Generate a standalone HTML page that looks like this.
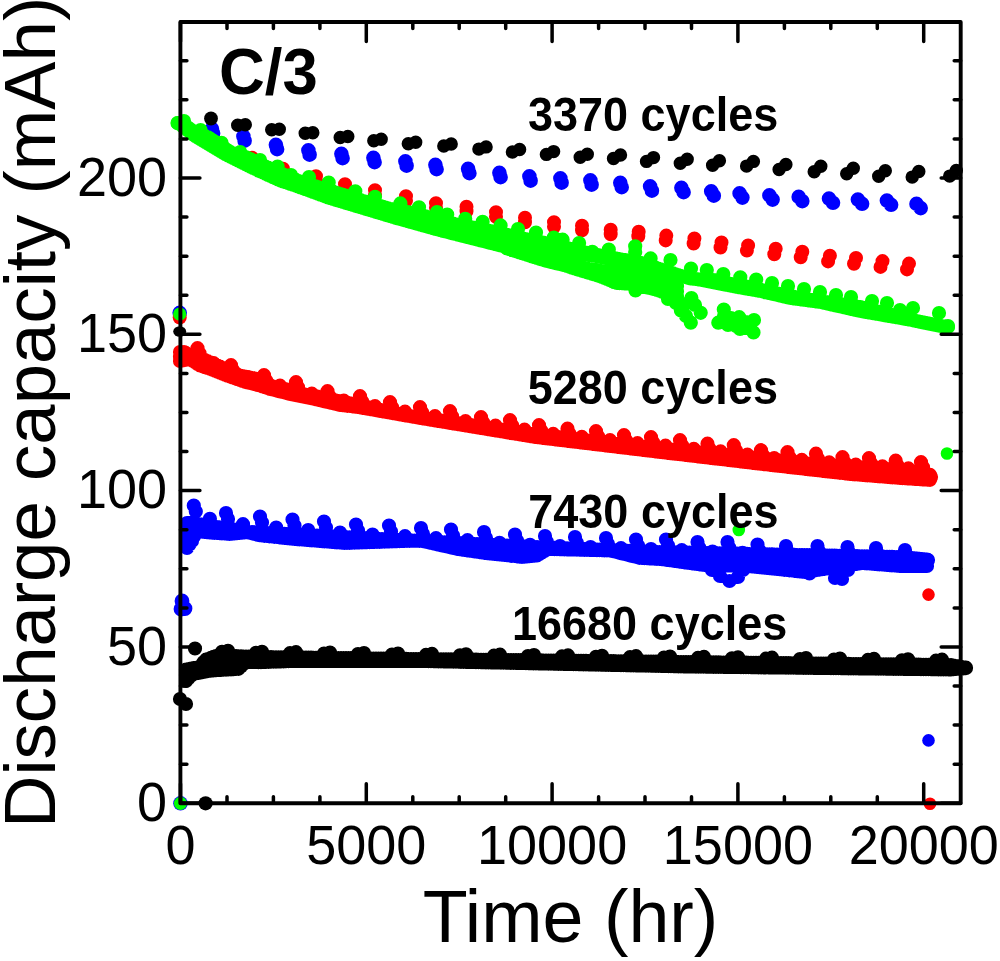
<!DOCTYPE html>
<html><head><meta charset="utf-8"><style>
html,body{margin:0;padding:0;background:#fff;width:1000px;height:961px;overflow:hidden}
svg{display:block;will-change:transform}
text{font-family:"Liberation Sans",sans-serif;fill:#000}
</style></head><body>
<svg width="1000" height="961" viewBox="0 0 1000 961">
<rect width="1000" height="961" fill="#fff"/>
<path d="M252.0 157.8h0M252.0 162.2h0M283.0 168.8h0M283.0 173.2h0M316.0 176.3h0M316.0 180.7h0M345.0 184.3h0M345.0 188.7h0M375.0 190.3h0M375.0 194.7h0M406.0 196.3h0M406.0 200.7h0M436.0 203.3h0M436.0 207.7h0M466.5 206.8h0M466.5 211.2h0M496.0 212.3h0M496.0 216.7h0M525.0 217.8h0M525.0 222.2h0M554.0 222.3h0M554.0 226.7h0M582.0 225.8h0M582.0 230.2h0M610.7 229.8h0M610.7 234.2h0M638.7 231.7h0M638.3 236.3h0M666.3 235.6h0M665.7 240.4h0M694.4 238.5h0M693.6 243.5h0M721.5 242.5h0M720.5 247.5h0M748.1 245.4h0M746.9 250.6h0M775.7 248.8h0M774.3 254.2h0M802.3 251.7h0M800.7 257.3h0M829.9 255.8h0M828.1 261.4h0M856.0 257.9h0M854.0 263.7h0M882.5 261.1h0M880.5 266.9h0M909.0 263.6h0M907.0 269.4h0" stroke="#ff0000" stroke-width="14.0" stroke-linecap="round" fill="none"/>
<path d="M211.9 128.8h0M213.1 133.2h0M243.4 136.3h0M244.6 140.7h0M275.9 144.8h0M277.1 149.2h0M308.4 150.3h0M309.6 154.7h0M341.4 153.8h0M342.6 158.2h0M373.4 157.8h0M374.6 162.2h0M405.4 161.3h0M406.6 165.7h0M435.4 164.8h0M436.6 169.2h0M468.1 168.8h0M469.4 173.2h0M499.4 172.8h0M500.6 177.2h0M529.4 176.3h0M530.6 180.7h0M560.4 178.3h0M561.6 182.7h0M590.4 180.3h0M591.6 184.7h0M620.3 182.8h0M621.7 187.2h0M650.1 186.3h0M651.9 190.7h0M681.4 187.8h0M683.6 192.2h0M711.2 191.3h0M713.8 195.7h0M739.6 193.4h0M742.4 197.6h0M769.4 195.4h0M772.6 199.6h0M798.7 196.9h0M802.3 201.1h0M829.0 198.6h0M833.0 202.8h0M857.9 199.6h0M862.1 203.8h0M886.9 200.6h0M891.1 204.8h0M916.5 203.9h0M920.7 208.1h0" stroke="#0000ff" stroke-width="14.6" stroke-linecap="round" fill="none"/>
<path d="M211.0 118.5h0" stroke="#000000" stroke-width="13.8" stroke-linecap="round" fill="none"/>
<path d="M237.7 125.3h0M245.3 124.7h0M271.7 129.8h0M279.3 129.2h0M305.2 133.3h0M312.8 132.7h0M340.2 137.5h0M347.8 136.5h0M373.8 140.7h0M381.2 139.3h0M408.3 143.8h0M415.7 142.2h0M443.8 146.0h0M451.2 144.0h0M478.9 149.1h0M486.1 146.9h0M512.4 152.0h0M519.6 149.5h0M546.4 154.4h0M553.6 151.6h0M580.2 157.3h0M587.3 154.2h0M613.5 158.5h0M620.5 155.0h0M646.5 161.4h0M653.5 157.6h0M680.3 163.3h0M687.2 159.2h0M712.6 165.2h0M719.4 160.8h0M746.6 166.1h0M753.4 161.4h0M779.1 169.5h0M785.9 164.5h0M814.2 171.7h0M820.8 166.3h0M846.7 173.8h0M853.3 168.2h0M878.7 176.3h0M885.3 170.7h0M912.2 177.1h0M918.8 171.5h0M949.7 176.1h0M956.3 170.5h0" stroke="#000000" stroke-width="13.4" stroke-linecap="round" fill="none"/>
<path d="M178.0 123.2h0M178.0 123.2h0M180.5 124.1h0M180.5 124.4h0M183.0 124.1h0M183.0 126.5h0M185.5 125.9h0M185.5 128.5h0M188.0 127.6h0M188.0 130.5h0M190.5 129.4h0M190.5 132.5h0M193.0 131.2h0M193.0 134.5h0M195.5 132.5h0M195.5 136.2h0M198.0 133.4h0M198.0 137.7h0M200.5 134.4h0M200.5 139.2h0M203.0 135.4h0M203.0 140.7h0M205.5 136.3h0M205.5 142.2h0M208.0 137.3h0M208.0 140.5h0M208.0 143.7h0M210.5 138.9h0M210.5 142.0h0M210.5 145.2h0M213.0 140.5h0M213.0 143.6h0M213.0 146.7h0M215.5 142.2h0M215.5 148.2h0M218.0 143.9h0M218.0 149.7h0M220.5 145.5h0M220.5 151.2h0M223.0 147.2h0M223.0 152.7h0M225.5 148.9h0M225.5 154.2h0M228.0 150.5h0M228.0 155.6h0M230.5 152.2h0M230.5 156.8h0M233.0 153.3h0M233.0 158.1h0M235.5 154.1h0M235.5 159.3h0M238.0 154.9h0M238.0 160.6h0M240.5 155.6h0M240.5 158.7h0M240.5 161.8h0M243.0 156.4h0M243.0 159.8h0M243.0 163.1h0M245.5 157.2h0M245.5 160.8h0M245.5 164.3h0M248.0 158.0h0M248.0 161.8h0M248.0 165.6h0M250.5 159.0h0M250.5 162.9h0M250.5 166.8h0M253.0 160.3h0M253.0 164.1h0M253.0 167.9h0M255.5 161.5h0M255.5 165.3h0M255.5 169.1h0M258.0 162.8h0M258.0 166.5h0M258.0 170.3h0M260.5 164.0h0M260.5 167.7h0M260.5 171.4h0M263.0 165.2h0M263.0 168.9h0M263.0 172.6h0M265.5 166.5h0M265.5 170.1h0M265.5 173.7h0M268.0 167.7h0M268.0 171.3h0M268.0 174.9h0M270.5 168.8h0M270.5 172.4h0M270.5 176.0h0M273.0 169.9h0M273.0 173.5h0M273.0 177.2h0M275.5 171.0h0M275.5 174.7h0M275.5 178.3h0M278.0 172.1h0M278.0 175.8h0M278.0 179.5h0M280.5 173.2h0M280.5 176.9h0M280.5 180.6h0M283.0 174.3h0M283.0 177.8h0M283.0 181.4h0M285.5 175.4h0M285.5 178.8h0M285.5 182.2h0M288.0 176.4h0M288.0 179.8h0M288.0 183.1h0M290.5 177.5h0M290.5 180.7h0M290.5 183.9h0M293.0 178.6h0M293.0 181.7h0M293.0 184.7h0M295.5 179.7h0M295.5 185.6h0M298.0 180.8h0M298.0 186.5h0M300.5 181.7h0M300.5 187.4h0M303.0 182.4h0M303.0 188.3h0M305.5 183.2h0M305.5 186.2h0M305.5 189.2h0M308.0 184.0h0M308.0 187.0h0M308.0 190.1h0M310.5 184.8h0M310.5 187.9h0M310.5 191.0h0M313.0 185.5h0M313.0 188.7h0M313.0 191.9h0M315.5 186.3h0M315.5 189.6h0M315.5 192.8h0M318.0 187.1h0M318.0 190.4h0M318.0 193.7h0M320.5 187.9h0M320.5 191.3h0M320.5 194.7h0M323.0 188.6h0M323.0 192.1h0M323.0 195.6h0M325.5 189.4h0M325.5 192.9h0M325.5 196.5h0M328.0 190.2h0M328.0 193.8h0M328.0 197.4h0M330.5 190.9h0M330.5 194.6h0M330.5 198.2h0M333.0 191.7h0M333.0 195.4h0M333.0 199.0h0M335.5 192.5h0M335.5 196.1h0M335.5 199.8h0M338.0 193.3h0M338.0 196.9h0M338.0 200.5h0M340.5 194.0h0M340.5 197.6h0M340.5 201.2h0M343.0 194.8h0M343.0 198.4h0M343.0 202.0h0M345.5 195.6h0M345.5 199.2h0M345.5 202.8h0M348.0 196.4h0M348.0 199.9h0M348.0 203.5h0M350.5 197.1h0M350.5 200.7h0M350.5 204.2h0M353.0 197.9h0M353.0 201.4h0M353.0 205.0h0M355.5 198.7h0M355.5 202.2h0M355.5 205.8h0M358.0 199.4h0M358.0 203.0h0M358.0 206.5h0M360.5 200.2h0M360.5 203.7h0M360.5 207.2h0M363.0 201.0h0M363.0 204.5h0M363.0 208.0h0M365.5 201.7h0M365.5 205.2h0M365.5 208.8h0M368.0 202.5h0M368.0 206.0h0M368.0 209.5h0M370.5 203.2h0M370.5 206.7h0M370.5 210.2h0M373.0 203.9h0M373.0 207.5h0M373.0 211.0h0M375.5 204.6h0M375.5 208.2h0M375.5 211.8h0M378.0 205.4h0M378.0 208.9h0M378.0 212.5h0M380.5 206.1h0M380.5 209.7h0M380.5 213.2h0M383.0 206.8h0M383.0 210.4h0M383.0 214.0h0M385.5 207.5h0M385.5 211.1h0M385.5 214.8h0M388.0 208.3h0M388.0 211.9h0M388.0 215.5h0M390.5 209.0h0M390.5 212.6h0M390.5 216.2h0M393.0 209.4h0M393.0 213.2h0M393.0 217.0h0M395.5 209.9h0M395.5 213.8h0M395.5 217.8h0M398.0 210.3h0M398.0 214.4h0M398.0 218.5h0M400.5 210.8h0M400.5 215.0h0M400.5 219.1h0M403.0 211.2h0M403.0 215.5h0M403.0 219.8h0M405.5 211.6h0M405.5 216.1h0M405.5 220.5h0M408.0 212.1h0M408.0 216.7h0M408.0 221.2h0M410.5 212.6h0M410.5 217.3h0M410.5 221.9h0M413.0 213.2h0M413.0 217.9h0M413.0 222.6h0M415.5 213.9h0M415.5 218.6h0M415.5 223.3h0M418.0 214.5h0M418.0 219.2h0M418.0 224.0h0M420.5 215.1h0M420.5 219.9h0M420.5 224.7h0M423.0 215.7h0M423.0 220.6h0M423.0 225.4h0M425.5 216.4h0M425.5 221.2h0M425.5 226.1h0M428.0 217.0h0M428.0 221.9h0M428.0 226.8h0M430.5 217.7h0M430.5 222.6h0M430.5 227.5h0M433.0 218.4h0M433.0 223.3h0M433.0 228.2h0M435.5 219.0h0M435.5 223.9h0M435.5 228.9h0M438.0 219.7h0M438.0 224.6h0M438.0 229.5h0M440.5 220.4h0M440.5 225.3h0M440.5 230.2h0M443.0 221.0h0M443.0 226.0h0M443.0 230.9h0M445.5 221.7h0M445.5 226.6h0M445.5 231.5h0M448.0 222.4h0M448.0 227.3h0M448.0 232.1h0M450.5 223.1h0M450.5 227.9h0M450.5 232.8h0M453.0 223.7h0M453.0 228.6h0M453.0 233.4h0M455.5 224.3h0M455.5 229.2h0M455.5 234.0h0M458.0 224.8h0M458.0 229.7h0M458.0 234.7h0M460.5 225.3h0M460.5 230.3h0M460.5 235.3h0M463.0 225.8h0M463.0 230.8h0M463.0 235.9h0M465.5 226.2h0M465.5 231.4h0M465.5 236.6h0M468.0 226.7h0M468.0 232.0h0M468.0 237.2h0M470.5 227.2h0M470.5 232.5h0M470.5 237.8h0M473.0 227.7h0M473.0 233.1h0M473.0 238.5h0M475.5 228.2h0M475.5 233.6h0M475.5 239.1h0M478.0 228.7h0M478.0 234.2h0M478.0 239.7h0M480.5 229.2h0M480.5 234.8h0M480.5 240.4h0M483.0 229.6h0M483.0 235.3h0M483.0 241.0h0M485.5 230.1h0M485.5 235.9h0M485.5 241.6h0M488.0 230.6h0M488.0 236.4h0M488.0 242.3h0M490.5 231.1h0M490.5 237.0h0M490.5 242.9h0M493.0 231.6h0M493.0 237.6h0M493.0 243.5h0M495.5 232.2h0M495.5 238.2h0M495.5 244.2h0M498.0 232.8h0M498.0 238.8h0M498.0 244.8h0M500.5 233.4h0M500.5 239.4h0M500.5 245.4h0M503.0 234.0h0M503.0 240.0h0M503.0 245.9h0M505.5 234.6h0M505.5 240.5h0M505.5 246.4h0M508.0 235.2h0M508.0 241.0h0M508.0 246.8h0M510.5 235.8h0M510.5 241.6h0M510.5 247.3h0M513.0 236.4h0M513.0 242.1h0M513.0 247.8h0M515.5 237.0h0M515.5 242.6h0M515.5 248.3h0M518.0 237.6h0M518.0 243.2h0M518.0 248.7h0M520.5 238.2h0M520.5 243.7h0M520.5 249.2h0M523.0 238.7h0M523.0 244.2h0M523.0 249.7h0M525.5 239.2h0M525.5 244.7h0M525.5 250.2h0M528.0 239.7h0M528.0 245.2h0M528.0 250.7h0M530.5 240.2h0M530.5 245.7h0M530.5 251.1h0M533.0 240.7h0M533.0 246.2h0M533.0 251.6h0M535.5 241.2h0M535.5 246.6h0M535.5 252.1h0M538.0 241.7h0M538.0 247.1h0M538.0 252.6h0M540.5 242.2h0M540.5 247.6h0M540.5 253.0h0M543.0 242.7h0M543.0 248.1h0M543.0 253.5h0M545.5 243.2h0M545.5 248.6h0M545.5 253.9h0M548.0 243.8h0M548.0 248.9h0M548.0 254.0h0M550.5 244.3h0M550.5 249.2h0M550.5 254.0h0M553.0 244.9h0M553.0 249.5h0M553.0 254.1h0M555.5 245.5h0M555.5 249.8h0M555.5 254.1h0M558.0 246.1h0M558.0 250.1h0M558.0 254.2h0M560.5 246.6h0M560.5 250.4h0M560.5 254.2h0M563.0 247.2h0M563.0 250.7h0M563.0 254.3h0M565.5 247.8h0M565.5 251.1h0M565.5 254.4h0M568.0 248.3h0M568.0 251.4h0M568.0 254.4h0M570.5 248.9h0M570.5 254.5h0M573.0 249.5h0M573.0 254.5h0M575.5 250.2h0M575.5 254.6h0M578.0 250.8h0M578.0 254.6h0M580.5 251.4h0M580.5 254.7h0M583.0 252.1h0M583.0 254.7h0M585.5 252.7h0M585.5 254.8h0M588.0 253.2h0M588.0 254.9h0M590.5 253.7h0M590.5 255.0h0M593.0 254.2h0M593.0 255.5h0M595.5 254.6h0M595.5 256.0h0M598.0 255.1h0M598.0 256.5h0M600.5 255.6h0M600.5 257.0h0M603.0 256.0h0M603.0 257.4h0M605.5 256.5h0M605.5 257.9h0M608.0 257.0h0M608.0 258.4h0M610.5 257.4h0M610.5 258.9h0M613.0 257.9h0M613.0 259.4h0M615.5 258.4h0M615.5 259.9h0M618.0 258.9h0M618.0 260.4h0M620.5 259.3h0M620.5 260.9h0M623.0 259.8h0M623.0 261.4h0M625.5 260.2h0M625.5 261.9h0M628.0 260.7h0M628.0 262.4h0M630.5 261.1h0M630.5 262.8h0M633.0 261.5h0M633.0 263.3h0M635.5 262.0h0M635.5 263.8h0M638.0 262.4h0M638.0 264.3h0M640.5 262.9h0M640.5 264.8h0M643.0 263.6h0M643.0 265.4h0M645.5 264.4h0M645.5 266.1h0M648.0 265.2h0M648.0 266.8h0M650.5 266.0h0M650.5 267.5h0M653.0 266.9h0M653.0 268.1h0M655.5 267.7h0M655.5 268.8h0M658.0 268.5h0M658.0 269.5h0M660.5 269.3h0M660.5 270.2h0M663.0 270.1h0M663.0 270.9h0M665.5 270.9h0M665.5 271.5h0M668.0 271.8h0M668.0 272.2h0M670.5 272.6h0M670.5 272.9h0M673.0 273.4h0M673.0 273.6h0M675.5 274.3h0M675.5 274.3h0M678.0 275.0h0M678.0 275.0h0M680.5 275.8h0M680.5 275.8h0M683.0 276.5h0M683.0 276.5h0M685.5 277.1h0M685.5 277.1h0M688.0 277.8h0M688.0 277.8h0M690.5 278.4h0M690.5 278.4h0M693.0 278.7h0M693.0 278.7h0M695.5 279.0h0M695.5 279.0h0M698.0 279.3h0M698.0 279.3h0M700.5 279.6h0M700.5 279.7h0M703.0 279.7h0M703.0 280.2h0M705.5 279.8h0M705.5 280.7h0M708.0 280.0h0M708.0 281.2h0M710.5 280.1h0M710.5 281.7h0M713.0 280.2h0M713.0 282.2h0M715.5 280.4h0M715.5 282.7h0M718.0 281.0h0M718.0 283.2h0M720.5 281.6h0M720.5 283.7h0M723.0 282.1h0M723.0 284.2h0M725.5 282.7h0M725.5 284.7h0M728.0 283.3h0M728.0 285.1h0M730.5 283.9h0M730.5 285.6h0M733.0 284.4h0M733.0 286.1h0M735.5 284.8h0M735.5 286.6h0M738.0 285.2h0M738.0 287.1h0M740.5 285.6h0M740.5 287.5h0M743.0 286.1h0M743.0 287.9h0M745.5 286.5h0M745.5 288.4h0M748.0 286.9h0M748.0 288.8h0M750.5 287.5h0M750.5 289.2h0M753.0 288.0h0M753.0 289.7h0M755.5 288.6h0M755.5 290.1h0M758.0 289.2h0M758.0 290.6h0M760.5 289.7h0M760.5 291.0h0M763.0 290.3h0M763.0 291.6h0M765.5 290.8h0M765.5 292.2h0M768.0 291.4h0M768.0 292.8h0M770.5 292.0h0M770.5 293.3h0M773.0 292.5h0M773.0 293.9h0M775.5 293.1h0M775.5 294.5h0M778.0 293.7h0M778.0 295.1h0M780.5 294.2h0M780.5 295.7h0M783.0 294.7h0M783.0 296.3h0M785.5 295.1h0M785.5 296.8h0M788.0 295.6h0M788.0 297.4h0M790.5 296.1h0M790.5 298.0h0M793.0 296.5h0M793.0 298.3h0M795.5 297.0h0M795.5 298.6h0M798.0 297.5h0M798.0 299.0h0M800.5 297.9h0M800.5 299.3h0M803.0 298.4h0M803.0 299.6h0M805.5 298.9h0M805.5 300.0h0M808.0 299.4h0M808.0 300.3h0M810.5 299.8h0M810.5 300.6h0M813.0 300.2h0M813.0 301.0h0M815.5 300.6h0M815.5 301.3h0M818.0 301.0h0M818.0 301.6h0M820.5 301.3h0M820.5 302.0h0M823.0 301.7h0M823.0 302.6h0M825.5 302.1h0M825.5 303.1h0M828.0 302.4h0M828.0 303.7h0M830.5 302.8h0M830.5 304.3h0M833.0 303.2h0M833.0 304.8h0M835.5 303.5h0M835.5 305.4h0M838.0 303.9h0M838.0 305.9h0M840.5 304.3h0M840.5 306.5h0M843.0 304.6h0M843.0 307.1h0M845.5 305.0h0M845.5 307.6h0M848.0 305.4h0M848.0 308.2h0M850.5 305.7h0M850.5 308.8h0M853.0 306.1h0M853.0 309.3h0M855.5 306.4h0M855.5 309.9h0M858.0 306.8h0M858.0 310.4h0M860.5 307.2h0M860.5 311.0h0M863.0 307.9h0M863.0 311.4h0M865.5 308.5h0M865.5 311.9h0M868.0 309.1h0M868.0 312.3h0M870.5 309.7h0M870.5 312.7h0M873.0 310.4h0M873.0 313.2h0M875.5 311.0h0M875.5 313.6h0M878.0 311.6h0M878.0 314.0h0M880.5 312.2h0M880.5 314.5h0M883.0 312.9h0M883.0 314.9h0M885.5 313.5h0M885.5 315.4h0M888.0 314.1h0M888.0 315.8h0M890.5 314.7h0M890.5 316.2h0M893.0 315.4h0M893.0 316.7h0M895.5 316.0h0M895.5 317.1h0M898.0 316.6h0M898.0 317.5h0M900.5 317.2h0M900.5 318.0h0M903.0 317.9h0M903.0 318.4h0M905.5 318.5h0M905.5 318.9h0M908.0 319.1h0M908.0 319.3h0M910.5 319.7h0M910.5 319.7h0M913.0 320.3h0M913.0 320.3h0M915.5 320.8h0M915.5 320.8h0M918.0 321.3h0M918.0 321.3h0M920.5 321.9h0M920.5 321.9h0M923.0 322.4h0M923.0 322.4h0M925.5 322.9h0M925.5 322.9h0M928.0 323.4h0M928.0 323.4h0M930.5 323.9h0M930.5 323.9h0M933.0 324.4h0M933.0 324.4h0M935.5 324.9h0M935.5 324.9h0M938.0 325.4h0M938.0 325.4h0M940.5 325.9h0M940.5 325.9h0M943.0 326.3h0M943.0 326.3h0M945.5 326.7h0M945.5 326.7h0M948.0 327.1h0M948.0 327.1h0" stroke="#00ff00" stroke-width="14.2" stroke-linecap="round" fill="none"/>
<path d="M177.5 123.0h0M184.0 121.0h0M200.6 130.0h0M221.5 142.8h0M240.2 152.0h0M260.0 160.0h0M277.6 166.5h0M291.0 175.0h0M309.0 177.0h0M328.7 182.5h0M355.3 191.3h0M375.0 196.8h0M400.4 203.4h0M419.0 207.3h0M437.0 212.0h0M447.2 214.6h0M465.2 218.8h0M482.6 221.8h0M500.6 225.4h0M518.0 229.0h0M536.0 232.6h0M553.8 237.5h0M562.6 239.7h0M579.1 243.0h0M592.3 251.8h0M608.8 249.6h0M635.2 246.3h0M650.6 258.4h0M670.5 260.0h0M691.0 268.5h0M706.8 270.1h0M723.3 274.0h0M740.3 277.3h0M756.2 279.5h0M772.0 283.0h0M788.0 286.0h0M804.0 289.0h0M820.0 292.0h0M836.0 295.0h0M851.0 297.0h0M872.0 301.0h0M887.0 303.0h0M900.0 310.0h0M913.0 308.0h0M939.0 313.0h0M948.0 326.0h0" stroke="#00ff00" stroke-width="14.2" stroke-linecap="round" fill="none"/>
<path d="M507.0 248.4h0M507.0 248.4h0M509.5 249.2h0M509.5 249.2h0M512.0 250.0h0M512.0 250.0h0M514.5 250.8h0M514.5 250.8h0M517.0 251.6h0M517.0 251.6h0M519.5 252.4h0M519.5 252.4h0M522.0 253.2h0M522.0 253.2h0M524.5 254.0h0M524.5 254.0h0M527.0 254.8h0M527.0 254.8h0M529.5 255.6h0M529.5 255.6h0M532.0 256.4h0M532.0 256.4h0M534.5 257.2h0M534.5 257.2h0M537.0 258.0h0M537.0 258.0h0M539.5 258.8h0M539.5 258.8h0M542.0 259.5h0M542.0 259.5h0M544.5 260.3h0M544.5 260.3h0M547.0 261.0h0M547.0 261.0h0M549.5 261.6h0M549.5 261.6h0M552.0 262.2h0M552.0 262.2h0M554.5 262.8h0M554.5 262.8h0M557.0 263.4h0M557.0 263.4h0M559.5 264.0h0M559.5 264.0h0M562.0 264.6h0M562.0 264.6h0M564.5 265.1h0M564.5 265.2h0M567.0 265.5h0M567.0 266.0h0M569.5 265.9h0M569.5 266.8h0M572.0 266.3h0M572.0 267.7h0M574.5 266.7h0M574.5 268.5h0M577.0 267.1h0M577.0 269.3h0M579.5 267.5h0M579.5 270.0h0M582.0 267.9h0M582.0 270.8h0M584.5 268.2h0M584.5 271.5h0M587.0 268.6h0M587.0 272.3h0M589.5 269.0h0M589.5 273.0h0M592.0 269.4h0M592.0 273.8h0M594.5 269.8h0M594.5 274.5h0M597.0 270.2h0M597.0 275.3h0M599.5 270.6h0M599.5 276.1h0M602.0 271.0h0M602.0 274.0h0M602.0 277.0h0M604.5 271.4h0M604.5 274.7h0M604.5 278.0h0M607.0 271.8h0M607.0 275.4h0M607.0 279.0h0M609.5 272.2h0M609.5 276.1h0M609.5 280.1h0M612.0 272.6h0M612.0 276.8h0M612.0 281.1h0M614.5 272.9h0M614.5 277.5h0M614.5 282.1h0M617.0 273.3h0M617.0 278.1h0M617.0 282.9h0M619.5 273.7h0M619.5 278.4h0M619.5 283.1h0M622.0 274.1h0M622.0 278.7h0M622.0 283.2h0M624.5 274.5h0M624.5 278.9h0M624.5 283.4h0M627.0 274.9h0M627.0 279.2h0M627.0 283.5h0M629.5 275.3h0M629.5 279.5h0M629.5 283.7h0M632.0 275.7h0M632.0 279.8h0M632.0 283.8h0M634.5 276.1h0M634.5 280.2h0M634.5 284.3h0M637.0 276.5h0M637.0 280.7h0M637.0 284.9h0M639.5 276.9h0M639.5 281.2h0M639.5 285.5h0M642.0 277.4h0M642.0 281.7h0M642.0 286.1h0M644.5 278.0h0M644.5 282.4h0M644.5 286.8h0M647.0 278.6h0M647.0 283.0h0M647.0 287.4h0M649.5 279.3h0M649.5 283.6h0M649.5 288.0h0M652.0 279.9h0M652.0 284.3h0M652.0 288.6h0M654.5 280.6h0M654.5 284.9h0M654.5 289.2h0M657.0 281.2h0M657.0 285.5h0M657.0 289.9h0M659.5 281.8h0M659.5 286.3h0M659.5 290.7h0M662.0 282.5h0M662.0 287.1h0M662.0 291.7h0M664.5 283.1h0M664.5 287.9h0M664.5 292.7h0M667.0 283.8h0M667.0 288.7h0M667.0 293.7h0M669.5 284.4h0M669.5 289.6h0M669.5 294.7h0M672.0 285.0h0M672.0 290.4h0M672.0 295.7h0M674.5 285.7h0M674.5 290.9h0M674.5 296.1h0M677.0 286.3h0M677.0 291.4h0M677.0 296.4h0" stroke="#00ff00" stroke-width="14.2" stroke-linecap="round" fill="none"/>
<path d="M635.5 290.5h0M614.0 282.0h0M644.0 287.0h0M666.6 290.8h0M673.2 296.3h0M691.4 298.0h0M680.9 310.6h0M700.7 312.8h0M690.8 322.7h0M685.0 304.0h0M695.0 305.0h0M686.0 316.0h0M676.0 303.0h0M668.0 299.0h0M723.8 309.5h0M718.3 322.7h0M746.0 322.0h0M731.0 318.0h0M724.0 316.0h0M740.0 329.0h0M739.2 317.2h0M754.0 320.0h0M753.5 332.4h0M728.0 325.0h0M745.0 328.0h0M736.0 326.0h0M635.2 252.0h0M635.0 262.0h0M634.0 272.0h0M634.0 282.0h0" stroke="#00ff00" stroke-width="14.2" stroke-linecap="round" fill="none"/>
<path d="M180.0 352.1h0M180.0 356.5h0M180.0 360.9h0M182.5 352.9h0M182.5 356.7h0M182.5 360.4h0M185.0 353.7h0M185.0 356.8h0M185.0 360.0h0M187.5 354.5h0M187.5 359.5h0M190.0 355.3h0M190.0 359.1h0M192.5 356.1h0M192.5 360.7h0M195.0 356.9h0M195.0 362.3h0M197.5 357.6h0M197.5 360.8h0M197.5 363.9h0M200.0 358.4h0M200.0 362.0h0M200.0 365.5h0M202.5 359.2h0M202.5 362.8h0M202.5 366.3h0M205.0 360.1h0M205.0 363.7h0M205.0 367.2h0M207.5 361.2h0M207.5 364.6h0M207.5 368.0h0M210.0 362.3h0M210.0 365.6h0M210.0 368.8h0M212.5 363.4h0M212.5 366.6h0M212.5 369.7h0M215.0 364.5h0M215.0 367.6h0M215.0 370.7h0M217.5 365.6h0M217.5 368.7h0M217.5 371.7h0M220.0 366.7h0M220.0 372.7h0M222.5 367.8h0M222.5 373.7h0M225.0 368.9h0M225.0 374.7h0M227.5 370.1h0M227.5 375.7h0M230.0 371.2h0M230.0 376.6h0M232.5 372.3h0M232.5 377.5h0M235.0 373.5h0M235.0 378.3h0M237.5 374.6h0M237.5 379.2h0M240.0 375.7h0M240.0 380.1h0M242.5 376.2h0M242.5 381.0h0M245.0 376.7h0M245.0 381.8h0M247.5 377.1h0M247.5 382.4h0M250.0 377.6h0M250.0 383.0h0M252.5 378.1h0M252.5 383.6h0M255.0 378.6h0M255.0 384.2h0M257.5 379.2h0M257.5 384.9h0M260.0 380.4h0M260.0 385.5h0M262.5 381.6h0M262.5 386.4h0M265.0 382.8h0M265.0 387.2h0M267.5 384.0h0M267.5 388.0h0M270.0 385.2h0M270.0 388.9h0M272.5 386.4h0M272.5 389.5h0M275.0 387.0h0M275.0 390.1h0M277.5 387.5h0M277.5 390.8h0M280.0 388.0h0M280.0 391.4h0M282.5 388.5h0M282.5 392.0h0M285.0 389.0h0M285.0 392.6h0M287.5 389.5h0M287.5 393.3h0M290.0 390.2h0M290.0 393.9h0M292.5 390.9h0M292.5 394.4h0M295.0 391.7h0M295.0 394.9h0M297.5 392.4h0M297.5 395.4h0M300.0 393.1h0M300.0 395.9h0M302.5 393.9h0M302.5 396.4h0M305.0 394.6h0M305.0 396.9h0M307.5 395.0h0M307.5 397.4h0M310.0 395.4h0M310.0 397.9h0M312.5 395.9h0M312.5 398.5h0M315.0 396.3h0M315.0 399.1h0M317.5 396.7h0M317.5 399.6h0M320.0 397.1h0M320.0 400.2h0M322.5 397.6h0M322.5 400.8h0M325.0 398.2h0M325.0 401.4h0M327.5 398.7h0M327.5 402.0h0M330.0 399.2h0M330.0 402.6h0M332.5 399.7h0M332.5 403.1h0M335.0 400.3h0M335.0 403.7h0M337.5 400.8h0M337.5 404.3h0M340.0 401.3h0M340.0 404.9h0M342.5 401.9h0M342.5 405.2h0M345.0 402.4h0M345.0 405.5h0M347.5 402.9h0M347.5 405.8h0M350.0 403.4h0M350.0 406.0h0M352.5 404.0h0M352.5 406.3h0M355.0 404.5h0M355.0 406.6h0M357.5 405.0h0M357.5 406.9h0M360.0 405.5h0M360.0 407.3h0M362.5 406.1h0M362.5 407.8h0M365.0 406.6h0M365.0 408.2h0M367.5 407.1h0M367.5 408.7h0M370.0 407.7h0M370.0 409.1h0M372.5 408.2h0M372.5 409.5h0M375.0 408.7h0M375.0 410.0h0M377.5 409.2h0M377.5 410.4h0M380.0 409.8h0M380.0 410.9h0M382.5 410.3h0M382.5 411.3h0M385.0 410.8h0M385.0 411.7h0M387.5 411.4h0M387.5 412.2h0M390.0 411.9h0M390.0 412.6h0M392.5 412.4h0M392.5 413.1h0M395.0 412.9h0M395.0 413.5h0M397.5 413.5h0M397.5 413.9h0M400.0 414.0h0M400.0 414.4h0M402.5 414.5h0M402.5 414.8h0M405.0 415.0h0M405.0 415.3h0M407.5 415.6h0M407.5 415.7h0M410.0 416.1h0M410.0 416.1h0M412.5 416.5h0M412.5 416.6h0M415.0 416.8h0M415.0 417.0h0M417.5 417.2h0M417.5 417.5h0M420.0 417.6h0M420.0 417.9h0M422.5 418.0h0M422.5 418.3h0M425.0 418.3h0M425.0 418.7h0M427.5 418.7h0M427.5 419.1h0M430.0 419.1h0M430.0 419.6h0M432.5 419.4h0M432.5 420.0h0M435.0 419.8h0M435.0 420.4h0M437.5 420.2h0M437.5 420.8h0M440.0 420.5h0M440.0 421.2h0M442.5 420.9h0M442.5 421.6h0M445.0 421.3h0M445.0 422.0h0M447.5 421.7h0M447.5 422.4h0M450.0 422.0h0M450.0 422.9h0M452.5 422.4h0M452.5 423.3h0M455.0 422.8h0M455.0 423.7h0M457.5 423.1h0M457.5 424.1h0M460.0 423.5h0M460.0 424.5h0M462.5 423.9h0M462.5 424.9h0M465.0 424.2h0M465.0 425.3h0M467.5 424.6h0M467.5 425.7h0M470.0 425.0h0M470.0 426.2h0M472.5 425.4h0M472.5 426.6h0M475.0 425.8h0M475.0 427.0h0M477.5 426.1h0M477.5 427.4h0M480.0 426.5h0M480.0 427.8h0M482.5 426.9h0M482.5 428.2h0M485.0 427.2h0M485.0 428.6h0M487.5 427.6h0M487.5 429.1h0M490.0 428.0h0M490.0 429.5h0M492.5 428.4h0M492.5 429.9h0M495.0 428.8h0M495.0 430.3h0M497.5 429.1h0M497.5 430.7h0M500.0 429.5h0M500.0 431.1h0M502.5 429.9h0M502.5 431.5h0M505.0 430.2h0M505.0 431.9h0M507.5 430.6h0M507.5 432.4h0M510.0 431.0h0M510.0 432.8h0M512.5 431.4h0M512.5 433.2h0M515.0 431.8h0M515.0 433.6h0M517.5 432.1h0M517.5 434.0h0M520.0 432.5h0M520.0 434.4h0M522.5 432.9h0M522.5 434.8h0M525.0 433.2h0M525.0 435.2h0M527.5 433.5h0M527.5 435.7h0M530.0 433.8h0M530.0 436.1h0M532.5 434.1h0M532.5 436.5h0M535.0 434.4h0M535.0 436.9h0M537.5 434.7h0M537.5 437.2h0M540.0 435.0h0M540.0 437.5h0M542.5 435.3h0M542.5 437.8h0M545.0 435.6h0M545.0 438.1h0M547.5 435.9h0M547.5 438.4h0M550.0 436.2h0M550.0 438.7h0M552.5 436.5h0M552.5 439.0h0M555.0 436.8h0M555.0 439.3h0M557.5 437.1h0M557.5 439.6h0M560.0 437.4h0M560.0 439.9h0M562.5 437.7h0M562.5 440.2h0M565.0 438.0h0M565.0 440.5h0M567.5 438.4h0M567.5 440.8h0M570.0 438.7h0M570.0 441.1h0M572.5 439.0h0M572.5 441.4h0M575.0 439.3h0M575.0 441.7h0M577.5 439.6h0M577.5 442.0h0M580.0 439.9h0M580.0 442.3h0M582.5 440.2h0M582.5 442.6h0M585.0 440.4h0M585.0 442.9h0M587.5 440.7h0M587.5 443.2h0M590.0 441.0h0M590.0 443.5h0M592.5 441.3h0M592.5 443.8h0M595.0 441.5h0M595.0 444.1h0M597.5 441.8h0M597.5 444.4h0M600.0 442.1h0M600.0 444.7h0M602.5 442.4h0M602.5 445.0h0M605.0 442.7h0M605.0 445.3h0M607.5 442.9h0M607.5 445.6h0M610.0 443.2h0M610.0 445.9h0M612.5 443.5h0M612.5 446.2h0M615.0 443.8h0M615.0 446.5h0M617.5 444.0h0M617.5 446.8h0M620.0 444.3h0M620.0 447.1h0M622.5 444.6h0M622.5 447.4h0M625.0 444.9h0M625.0 447.7h0M627.5 445.2h0M627.5 448.0h0M630.0 445.4h0M630.0 448.3h0M632.5 445.7h0M632.5 448.6h0M635.0 446.0h0M635.0 448.9h0M637.5 446.3h0M637.5 449.2h0M640.0 446.5h0M640.0 449.5h0M642.5 446.8h0M642.5 449.8h0M645.0 447.0h0M645.0 450.1h0M647.5 447.3h0M647.5 450.4h0M650.0 447.5h0M650.0 450.7h0M652.5 447.8h0M652.5 451.0h0M655.0 448.1h0M655.0 451.3h0M657.5 448.3h0M657.5 451.6h0M660.0 448.6h0M660.0 451.9h0M662.5 448.8h0M662.5 452.2h0M665.0 449.1h0M665.0 452.5h0M667.5 449.4h0M667.5 452.8h0M670.0 449.6h0M670.0 453.1h0M672.5 449.9h0M672.5 453.4h0M675.0 450.1h0M675.0 453.7h0M677.5 450.4h0M677.5 454.0h0M680.0 450.7h0M680.0 454.2h0M682.5 450.9h0M682.5 454.5h0M685.0 451.2h0M685.0 454.8h0M687.5 451.4h0M687.5 455.1h0M690.0 451.7h0M690.0 455.4h0M692.5 451.9h0M692.5 455.7h0M695.0 452.2h0M695.0 456.0h0M697.5 452.4h0M697.5 456.3h0M700.0 452.7h0M700.0 456.6h0M702.5 452.9h0M702.5 456.9h0M705.0 453.1h0M705.0 457.2h0M707.5 453.4h0M707.5 457.5h0M710.0 453.6h0M710.0 457.8h0M712.5 453.8h0M712.5 458.1h0M715.0 454.0h0M715.0 458.4h0M717.5 454.3h0M717.5 458.6h0M720.0 454.5h0M720.0 458.9h0M722.5 454.7h0M722.5 459.2h0M725.0 455.0h0M725.0 459.5h0M727.5 455.2h0M727.5 459.8h0M730.0 455.4h0M730.0 460.1h0M732.5 455.7h0M732.5 460.4h0M735.0 455.9h0M735.0 460.7h0M737.5 456.1h0M737.5 461.0h0M740.0 456.4h0M740.0 461.3h0M742.5 456.6h0M742.5 461.6h0M745.0 456.8h0M745.0 461.9h0M747.5 457.1h0M747.5 462.2h0M750.0 457.3h0M750.0 462.5h0M752.5 457.6h0M752.5 462.8h0M755.0 457.9h0M755.0 463.1h0M757.5 458.2h0M757.5 463.3h0M760.0 458.4h0M760.0 463.6h0M762.5 458.7h0M762.5 463.9h0M765.0 459.0h0M765.0 464.2h0M767.5 459.3h0M767.5 464.5h0M770.0 459.5h0M770.0 464.8h0M772.5 459.8h0M772.5 465.1h0M775.0 460.1h0M775.0 465.4h0M777.5 460.4h0M777.5 465.7h0M780.0 460.7h0M780.0 466.0h0M782.5 460.9h0M782.5 466.2h0M785.0 461.2h0M785.0 466.5h0M787.5 461.5h0M787.5 466.8h0M790.0 461.8h0M790.0 467.1h0M792.5 462.0h0M792.5 467.4h0M795.0 462.3h0M795.0 467.7h0M797.5 462.6h0M797.5 467.9h0M800.0 462.9h0M800.0 468.2h0M802.5 463.1h0M802.5 468.5h0M805.0 463.3h0M805.0 468.8h0M807.5 463.5h0M807.5 469.1h0M810.0 463.7h0M810.0 469.4h0M812.5 463.9h0M812.5 469.6h0M815.0 464.1h0M815.0 469.9h0M817.5 464.3h0M817.5 470.2h0M820.0 464.5h0M820.0 467.5h0M820.0 470.5h0M822.5 464.7h0M822.5 467.7h0M822.5 470.8h0M825.0 464.9h0M825.0 468.0h0M825.0 471.1h0M827.5 465.1h0M827.5 468.2h0M827.5 471.3h0M830.0 465.2h0M830.0 468.4h0M830.0 471.6h0M832.5 465.4h0M832.5 468.7h0M832.5 471.9h0M835.0 465.6h0M835.0 468.9h0M835.0 472.2h0M837.5 465.8h0M837.5 469.1h0M837.5 472.5h0M840.0 465.9h0M840.0 469.4h0M840.0 472.8h0M842.5 466.1h0M842.5 469.6h0M842.5 473.0h0M845.0 466.3h0M845.0 469.8h0M845.0 473.3h0M847.5 466.5h0M847.5 470.0h0M847.5 473.6h0M850.0 466.6h0M850.0 470.3h0M850.0 473.9h0M852.5 466.8h0M852.5 470.5h0M852.5 474.1h0M855.0 467.0h0M855.0 470.6h0M855.0 474.3h0M857.5 467.1h0M857.5 470.8h0M857.5 474.5h0M860.0 467.3h0M860.0 471.0h0M860.0 474.7h0M862.5 467.5h0M862.5 471.2h0M862.5 474.9h0M865.0 467.7h0M865.0 471.4h0M865.0 475.1h0M867.5 467.8h0M867.5 471.6h0M867.5 475.3h0M870.0 468.0h0M870.0 471.8h0M870.0 475.5h0M872.5 468.2h0M872.5 471.9h0M872.5 475.7h0M875.0 468.4h0M875.0 472.1h0M875.0 475.9h0M877.5 468.5h0M877.5 472.3h0M877.5 476.1h0M880.0 468.7h0M880.0 472.5h0M880.0 476.3h0M882.5 468.9h0M882.5 472.7h0M882.5 476.5h0M885.0 469.1h0M885.0 472.9h0M885.0 476.7h0M887.5 469.2h0M887.5 473.1h0M887.5 476.9h0M890.0 469.4h0M890.0 473.3h0M890.0 477.1h0M892.5 469.6h0M892.5 473.4h0M892.5 477.3h0M895.0 469.8h0M895.0 473.6h0M895.0 477.5h0M897.5 469.9h0M897.5 473.8h0M897.5 477.7h0M900.0 470.1h0M900.0 474.0h0M900.0 477.9h0M902.5 470.5h0M902.5 474.3h0M902.5 478.1h0M905.0 470.9h0M905.0 474.6h0M905.0 478.2h0M907.5 471.3h0M907.5 474.8h0M907.5 478.4h0M910.0 471.7h0M910.0 475.1h0M910.0 478.5h0M912.5 472.1h0M912.5 475.4h0M912.5 478.7h0M915.0 472.5h0M915.0 475.7h0M915.0 478.9h0M917.5 472.9h0M917.5 476.0h0M917.5 479.0h0M920.0 473.3h0M920.0 479.2h0M922.5 473.7h0M922.5 479.4h0M925.0 474.1h0M925.0 479.5h0M927.5 474.5h0M927.5 479.7h0M930.0 474.9h0M930.0 479.8h0" stroke="#ff0000" stroke-width="14.2" stroke-linecap="round" fill="none"/>
<path d="M186.0 353.2h0M197.5 348.2h0M213.6 363.2h0M231.0 365.2h0M264.0 375.2h0M296.0 382.2h0M327.5 391.2h0M360.0 396.2h0M390.0 402.2h0M420.0 407.2h0M450.0 411.2h0M481.0 417.2h0M510.0 420.2h0M539.0 425.2h0M567.5 428.7h0M596.0 431.2h0M624.0 435.2h0M651.0 437.2h0M680.0 440.2h0M707.5 443.7h0M733.8 445.2h0M761.0 450.2h0M787.5 452.2h0M816.0 453.7h0M842.5 457.2h0M869.0 458.2h0M895.7 460.7h0M921.0 462.2h0M222.3 371.2h0M247.5 377.2h0M280.0 385.7h0M311.8 393.7h0M343.8 400.7h0M375.0 406.2h0M405.0 411.7h0M435.0 416.2h0M465.5 421.2h0M495.5 425.7h0M524.5 429.7h0M553.2 433.9h0M581.8 436.9h0M610.0 440.2h0M637.5 443.2h0M665.5 445.7h0M693.8 448.9h0M720.6 451.4h0M747.4 454.7h0M774.2 458.2h0M801.8 459.9h0M829.2 462.4h0M855.8 464.7h0M882.4 466.4h0M908.4 468.4h0M188.0 358.2h0M199.5 353.2h0M215.6 368.2h0M233.0 370.2h0M266.0 380.2h0M298.0 387.2h0M329.5 396.2h0M362.0 401.2h0M392.0 407.2h0M422.0 412.2h0M452.0 416.2h0M483.0 422.2h0M512.0 425.2h0M541.0 430.2h0M569.5 433.7h0M598.0 436.2h0M626.0 440.2h0M653.0 442.2h0M682.0 445.2h0M709.5 448.7h0M735.8 450.2h0M763.0 455.2h0M789.5 457.2h0M818.0 458.7h0M844.5 462.2h0M871.0 463.2h0M897.7 465.7h0M923.0 467.2h0" stroke="#ff0000" stroke-width="14.2" stroke-linecap="round" fill="none"/>
<path d="M180.4 358.7h0M184.0 352.0h0M931.0 477.0h0" stroke="#ff0000" stroke-width="14.2" stroke-linecap="round" fill="none"/>
<path d="M187.0 523.1h0M187.0 528.1h0M187.0 533.0h0M187.0 538.0h0M187.0 542.9h0M187.0 547.9h0M189.5 523.1h0M189.5 528.4h0M189.5 533.8h0M189.5 539.1h0M189.5 544.4h0M192.0 523.1h0M192.0 529.1h0M192.0 535.0h0M192.0 541.0h0M194.5 523.5h0M194.5 527.6h0M194.5 531.6h0M194.5 535.7h0M197.0 523.9h0M197.0 527.4h0M197.0 531.0h0M199.5 524.3h0M199.5 527.8h0M199.5 531.3h0M202.0 524.7h0M202.0 528.1h0M202.0 531.6h0M204.5 525.0h0M204.5 528.5h0M204.5 531.9h0M207.0 525.4h0M207.0 528.8h0M207.0 532.2h0M209.5 525.8h0M209.5 529.1h0M209.5 532.4h0M212.0 526.2h0M212.0 529.4h0M212.0 532.6h0M214.5 526.6h0M214.5 529.7h0M214.5 532.8h0M217.0 527.0h0M217.0 532.9h0M219.5 527.4h0M219.5 533.1h0M222.0 527.8h0M222.0 533.3h0M224.5 528.1h0M224.5 533.5h0M227.0 528.5h0M227.0 533.7h0M229.5 528.9h0M229.5 533.9h0M232.0 529.3h0M232.0 533.7h0M234.5 529.7h0M234.5 533.5h0M237.0 530.1h0M237.0 533.2h0M239.5 530.5h0M239.5 533.0h0M242.0 530.9h0M242.0 532.7h0M244.5 531.2h0M244.5 532.5h0M247.0 531.6h0M247.0 532.2h0M249.5 532.0h0M249.5 532.7h0M252.0 532.2h0M252.0 533.3h0M254.5 532.3h0M254.5 533.9h0M257.0 532.5h0M257.0 534.6h0M259.5 532.6h0M259.5 535.2h0M262.0 532.7h0M262.0 535.5h0M264.5 532.9h0M264.5 535.8h0M267.0 533.0h0M267.0 536.0h0M269.5 533.1h0M269.5 536.3h0M272.0 533.3h0M272.0 536.5h0M274.5 533.4h0M274.5 536.8h0M277.0 533.5h0M277.0 537.0h0M279.5 533.7h0M279.5 537.3h0M282.0 533.8h0M282.0 537.6h0M284.5 533.9h0M284.5 537.8h0M287.0 534.1h0M287.0 538.1h0M289.5 534.2h0M289.5 538.3h0M292.0 534.3h0M292.0 538.6h0M294.5 534.5h0M294.5 538.8h0M297.0 534.6h0M297.0 539.1h0M299.5 534.7h0M299.5 539.3h0M302.0 534.9h0M302.0 539.5h0M304.5 535.0h0M304.5 539.7h0M307.0 535.1h0M307.0 539.9h0M309.5 535.3h0M309.5 540.1h0M312.0 535.4h0M312.0 540.3h0M314.5 535.5h0M314.5 540.5h0M317.0 535.7h0M317.0 540.7h0M319.5 535.8h0M319.5 540.9h0M322.0 535.9h0M322.0 541.1h0M324.5 536.1h0M324.5 541.3h0M327.0 536.2h0M327.0 541.5h0M329.5 536.3h0M329.5 541.7h0M332.0 536.5h0M332.0 541.9h0M334.5 536.6h0M334.5 542.1h0M337.0 536.7h0M337.0 542.3h0M339.5 536.9h0M339.5 542.5h0M342.0 537.0h0M342.0 542.7h0M344.5 537.1h0M344.5 542.9h0M347.0 537.3h0M347.0 542.8h0M349.5 537.4h0M349.5 542.8h0M352.0 537.5h0M352.0 542.7h0M354.5 537.7h0M354.5 542.6h0M357.0 537.8h0M357.0 542.5h0M359.5 537.9h0M359.5 542.4h0M362.0 538.1h0M362.0 542.3h0M364.5 538.2h0M364.5 542.2h0M367.0 538.3h0M367.0 542.2h0M369.5 538.5h0M369.5 542.1h0M372.0 538.6h0M372.0 542.0h0M374.5 538.7h0M374.5 541.9h0M377.0 538.9h0M377.0 541.8h0M379.5 539.0h0M379.5 541.8h0M382.0 539.1h0M382.0 541.7h0M384.5 539.3h0M384.5 541.6h0M387.0 539.4h0M387.0 541.5h0M389.5 539.5h0M389.5 541.4h0M392.0 539.7h0M392.0 541.3h0M394.5 539.8h0M394.5 541.2h0M397.0 539.9h0M397.0 541.2h0M399.5 540.1h0M399.5 541.1h0M402.0 540.2h0M402.0 541.0h0M404.5 540.3h0M404.5 540.9h0M407.0 540.5h0M407.0 540.8h0M409.5 540.6h0M409.5 540.8h0M412.0 540.7h0M412.0 540.7h0M414.5 540.7h0M414.5 540.7h0M417.0 540.7h0M417.0 540.7h0M419.5 540.8h0M419.5 540.8h0M422.0 541.0h0M422.0 541.0h0M424.5 541.4h0M424.5 541.4h0M427.0 541.5h0M427.0 542.0h0M429.5 541.6h0M429.5 542.6h0M432.0 541.8h0M432.0 543.1h0M434.5 541.9h0M434.5 543.7h0M437.0 542.0h0M437.0 544.3h0M439.5 542.1h0M439.5 544.8h0M442.0 542.3h0M442.0 545.4h0M444.5 542.4h0M444.5 546.0h0M447.0 542.5h0M447.0 546.5h0M449.5 542.7h0M449.5 547.1h0M452.0 542.8h0M452.0 547.7h0M454.5 542.9h0M454.5 548.2h0M457.0 543.1h0M457.0 548.8h0M459.5 543.2h0M459.5 546.2h0M459.5 549.2h0M462.0 543.3h0M462.0 546.4h0M462.0 549.6h0M464.5 543.4h0M464.5 546.7h0M464.5 549.9h0M467.0 543.6h0M467.0 546.9h0M467.0 550.3h0M469.5 543.7h0M469.5 547.2h0M469.5 550.6h0M472.0 543.8h0M472.0 547.4h0M472.0 551.0h0M474.5 544.0h0M474.5 547.7h0M474.5 551.4h0M477.0 544.1h0M477.0 547.9h0M477.0 551.7h0M479.5 544.2h0M479.5 548.2h0M479.5 552.1h0M482.0 544.4h0M482.0 548.4h0M482.0 552.5h0M484.5 544.5h0M484.5 548.7h0M484.5 552.8h0M487.0 544.6h0M487.0 548.9h0M487.0 553.1h0M489.5 544.7h0M489.5 549.1h0M489.5 553.4h0M492.0 544.9h0M492.0 549.3h0M492.0 553.6h0M494.5 545.0h0M494.5 549.5h0M494.5 553.9h0M497.0 545.1h0M497.0 549.7h0M497.0 554.2h0M499.5 545.3h0M499.5 549.9h0M499.5 554.4h0M502.0 545.4h0M502.0 550.1h0M502.0 554.7h0M504.5 545.5h0M504.5 550.2h0M504.5 555.0h0M507.0 545.6h0M507.0 550.4h0M507.0 555.2h0M509.5 545.8h0M509.5 550.6h0M509.5 555.5h0M512.0 545.9h0M512.0 550.8h0M512.0 555.8h0M514.5 546.0h0M514.5 551.0h0M514.5 556.0h0M517.0 546.2h0M517.0 551.2h0M517.0 556.3h0M519.5 546.3h0M519.5 551.4h0M519.5 556.6h0M522.0 546.4h0M522.0 551.6h0M522.0 556.8h0M524.5 546.6h0M524.5 551.6h0M524.5 556.7h0M527.0 546.7h0M527.0 551.6h0M527.0 556.4h0M529.5 546.8h0M529.5 551.5h0M529.5 556.2h0M532.0 546.9h0M532.0 551.4h0M532.0 555.9h0M534.5 547.1h0M534.5 551.4h0M534.5 555.7h0M537.0 547.2h0M537.0 551.3h0M537.0 555.4h0M539.5 547.3h0M539.5 550.7h0M539.5 554.1h0M542.0 547.4h0M542.0 552.5h0M544.5 547.5h0M544.5 550.9h0M547.0 547.6h0M547.0 549.2h0M549.5 547.7h0M549.5 548.9h0M552.0 547.8h0M552.0 549.0h0M554.5 547.9h0M554.5 549.1h0M557.0 548.0h0M557.0 549.1h0M559.5 548.1h0M559.5 549.2h0M562.0 548.2h0M562.0 549.2h0M564.5 548.3h0M564.5 549.3h0M567.0 548.4h0M567.0 549.4h0M569.5 548.5h0M569.5 549.4h0M572.0 548.6h0M572.0 549.5h0M574.5 548.7h0M574.5 549.5h0M577.0 548.8h0M577.0 549.6h0M579.5 548.9h0M579.5 549.7h0M582.0 549.0h0M582.0 549.7h0M584.5 549.1h0M584.5 549.8h0M587.0 549.2h0M587.0 549.8h0M589.5 549.3h0M589.5 549.9h0M592.0 549.4h0M592.0 550.0h0M594.5 549.5h0M594.5 550.0h0M597.0 549.6h0M597.0 550.1h0M599.5 549.7h0M599.5 550.1h0M602.0 549.8h0M602.0 550.2h0M604.5 549.9h0M604.5 550.3h0M607.0 550.0h0M607.0 550.3h0M609.5 550.1h0M609.5 550.4h0M612.0 550.2h0M612.0 550.9h0M614.5 550.3h0M614.5 551.5h0M617.0 550.4h0M617.0 552.1h0M619.5 550.5h0M619.5 552.8h0M622.0 550.6h0M622.0 553.4h0M624.5 550.7h0M624.5 554.0h0M627.0 550.8h0M627.0 554.6h0M629.5 550.9h0M629.5 555.3h0M632.0 551.0h0M632.0 555.9h0M634.5 551.1h0M634.5 556.5h0M637.0 551.2h0M637.0 557.1h0M639.5 551.3h0M639.5 554.5h0M639.5 557.8h0M642.0 551.4h0M642.0 554.7h0M642.0 558.0h0M644.5 551.5h0M644.5 554.8h0M644.5 558.1h0M647.0 551.6h0M647.0 554.9h0M647.0 558.2h0M649.5 551.7h0M649.5 555.0h0M649.5 558.4h0M652.0 551.8h0M652.0 555.1h0M652.0 558.5h0M654.5 551.9h0M654.5 555.3h0M654.5 558.6h0M657.0 552.0h0M657.0 555.4h0M657.0 558.8h0M659.5 552.1h0M659.5 555.5h0M659.5 558.9h0M662.0 552.1h0M662.0 555.7h0M662.0 559.2h0M664.5 552.2h0M664.5 555.9h0M664.5 559.5h0M667.0 552.2h0M667.0 556.1h0M667.0 559.9h0M669.5 552.3h0M669.5 556.2h0M669.5 560.2h0M672.0 552.4h0M672.0 556.4h0M672.0 560.5h0M674.5 552.4h0M674.5 556.6h0M674.5 560.9h0M677.0 552.5h0M677.0 556.8h0M677.0 561.2h0M679.5 552.5h0M679.5 557.0h0M679.5 561.6h0M682.0 552.6h0M682.0 557.2h0M682.0 561.9h0M684.5 552.6h0M684.5 557.4h0M684.5 562.3h0M687.0 552.7h0M687.0 557.6h0M687.0 562.6h0M689.5 552.7h0M689.5 557.8h0M689.5 562.9h0M692.0 552.8h0M692.0 558.0h0M692.0 563.3h0M694.5 552.8h0M694.5 558.2h0M694.5 563.6h0M697.0 552.9h0M697.0 558.4h0M697.0 564.0h0M699.5 552.9h0M699.5 558.6h0M699.5 564.3h0M702.0 553.0h0M702.0 558.8h0M702.0 564.6h0M704.5 553.0h0M704.5 559.0h0M704.5 565.0h0M707.0 553.1h0M707.0 557.2h0M707.0 561.2h0M707.0 565.3h0M709.5 553.1h0M709.5 557.2h0M709.5 561.3h0M709.5 565.4h0M712.0 553.2h0M712.0 557.3h0M712.0 561.3h0M712.0 565.4h0M714.5 553.2h0M714.5 557.3h0M714.5 561.3h0M714.5 565.4h0M717.0 553.3h0M717.0 557.3h0M717.0 561.4h0M717.0 565.4h0M719.5 553.3h0M719.5 557.4h0M719.5 561.4h0M719.5 565.4h0M722.0 553.4h0M722.0 557.4h0M722.0 561.4h0M722.0 565.4h0M724.5 553.4h0M724.5 559.4h0M724.5 565.4h0M727.0 553.5h0M727.0 559.4h0M727.0 565.4h0M729.5 553.5h0M729.5 559.5h0M729.5 565.4h0M732.0 553.6h0M732.0 559.5h0M732.0 565.4h0M734.5 553.7h0M734.5 559.5h0M734.5 565.4h0M737.0 553.7h0M737.0 559.6h0M737.0 565.4h0M739.5 553.8h0M739.5 559.6h0M739.5 565.4h0M742.0 553.8h0M742.0 559.6h0M742.0 565.4h0M744.5 553.9h0M744.5 559.7h0M744.5 565.6h0M747.0 553.9h0M747.0 559.9h0M747.0 565.9h0M749.5 554.0h0M749.5 558.0h0M749.5 562.1h0M749.5 566.1h0M752.0 554.0h0M752.0 558.1h0M752.0 562.3h0M752.0 566.4h0M754.5 554.1h0M754.5 558.3h0M754.5 562.5h0M754.5 566.6h0M757.0 554.1h0M757.0 558.4h0M757.0 562.6h0M757.0 566.9h0M759.5 554.2h0M759.5 558.5h0M759.5 562.8h0M759.5 567.2h0M762.0 554.2h0M762.0 558.6h0M762.0 563.0h0M762.0 567.4h0M764.5 554.3h0M764.5 558.7h0M764.5 563.2h0M764.5 567.7h0M767.0 554.3h0M767.0 558.9h0M767.0 563.4h0M767.0 567.9h0M769.5 554.4h0M769.5 559.0h0M769.5 563.6h0M769.5 568.2h0M772.0 554.4h0M772.0 559.1h0M772.0 563.8h0M772.0 568.5h0M774.5 554.5h0M774.5 559.2h0M774.5 564.0h0M774.5 568.7h0M777.0 554.5h0M777.0 559.4h0M777.0 564.2h0M777.0 569.0h0M779.5 554.6h0M779.5 559.5h0M779.5 564.4h0M779.5 569.2h0M782.0 554.6h0M782.0 559.6h0M782.0 564.6h0M782.0 569.5h0M784.5 554.7h0M784.5 559.7h0M784.5 564.7h0M784.5 569.8h0M787.0 554.7h0M787.0 559.8h0M787.0 564.9h0M787.0 570.0h0M789.5 554.8h0M789.5 560.0h0M789.5 565.1h0M789.5 570.3h0M792.0 554.9h0M792.0 560.1h0M792.0 565.3h0M792.0 570.5h0M794.5 554.9h0M794.5 560.2h0M794.5 565.5h0M794.5 570.8h0M797.0 555.0h0M797.0 560.3h0M797.0 565.7h0M797.0 571.1h0M799.5 555.0h0M799.5 560.4h0M799.5 565.9h0M799.5 571.3h0M802.0 555.1h0M802.0 560.6h0M802.0 566.1h0M802.0 571.6h0M804.5 555.1h0M804.5 560.7h0M804.5 566.3h0M804.5 571.8h0M807.0 555.2h0M807.0 560.6h0M807.0 566.1h0M807.0 571.6h0M809.5 555.2h0M809.5 560.5h0M809.5 565.9h0M809.5 571.2h0M812.0 555.3h0M812.0 560.4h0M812.0 565.6h0M812.0 570.8h0M814.5 555.3h0M814.5 560.4h0M814.5 565.4h0M814.5 570.4h0M817.0 555.4h0M817.0 560.3h0M817.0 565.1h0M817.0 570.0h0M819.5 555.4h0M819.5 560.2h0M819.5 564.9h0M819.5 569.6h0M822.0 555.5h0M822.0 560.1h0M822.0 564.7h0M822.0 569.2h0M824.5 555.5h0M824.5 560.0h0M824.5 564.4h0M824.5 568.8h0M827.0 555.6h0M827.0 559.9h0M827.0 564.2h0M827.0 568.5h0M829.5 555.6h0M829.5 559.8h0M829.5 563.9h0M829.5 568.1h0M832.0 555.7h0M832.0 561.7h0M832.0 567.7h0M834.5 555.7h0M834.5 561.5h0M834.5 567.3h0M837.0 555.8h0M837.0 561.3h0M837.0 566.9h0M839.5 555.8h0M839.5 561.2h0M839.5 566.5h0M842.0 555.9h0M842.0 561.0h0M842.0 566.1h0M844.5 555.9h0M844.5 560.8h0M844.5 565.7h0M847.0 556.0h0M847.0 560.7h0M847.0 565.3h0M849.5 556.0h0M849.5 560.5h0M849.5 564.9h0M852.0 556.1h0M852.0 560.3h0M852.0 564.5h0M854.5 556.2h0M854.5 560.2h0M854.5 564.2h0M857.0 556.2h0M857.0 560.0h0M857.0 563.8h0M859.5 556.3h0M859.5 559.8h0M859.5 563.4h0M862.0 556.3h0M862.0 559.6h0M862.0 563.0h0M864.5 556.4h0M864.5 559.7h0M864.5 563.1h0M867.0 556.4h0M867.0 559.8h0M867.0 563.3h0M869.5 556.5h0M869.5 560.0h0M869.5 563.5h0M872.0 556.5h0M872.0 560.1h0M872.0 563.7h0M874.5 556.6h0M874.5 560.2h0M874.5 563.9h0M877.0 556.6h0M877.0 560.3h0M877.0 564.1h0M879.5 556.7h0M879.5 560.5h0M879.5 564.3h0M882.0 556.7h0M882.0 560.6h0M882.0 564.5h0M884.5 556.8h0M884.5 560.7h0M884.5 564.7h0M887.0 556.8h0M887.0 560.8h0M887.0 564.9h0M889.5 556.9h0M889.5 561.0h0M889.5 565.1h0M892.0 556.9h0M892.0 561.1h0M892.0 565.3h0M894.5 557.0h0M894.5 561.2h0M894.5 565.5h0M897.0 557.0h0M897.0 561.3h0M897.0 565.7h0M899.5 557.1h0M899.5 561.5h0M899.5 565.9h0M902.0 557.3h0M902.0 561.6h0M902.0 565.9h0M904.5 557.5h0M904.5 561.7h0M904.5 565.9h0M907.0 557.7h0M907.0 561.8h0M907.0 565.9h0M909.5 557.9h0M909.5 561.9h0M909.5 565.9h0M912.0 558.2h0M912.0 562.0h0M912.0 565.9h0M914.5 558.4h0M914.5 562.1h0M914.5 565.9h0M917.0 558.6h0M917.0 562.2h0M917.0 565.9h0M919.5 558.8h0M919.5 562.4h0M919.5 565.9h0M922.0 559.0h0M922.0 562.5h0M922.0 565.9h0M924.5 559.3h0M924.5 562.6h0M924.5 565.9h0M927.0 559.5h0M927.0 562.7h0M927.0 565.9h0" stroke="#0000ff" stroke-width="14.2" stroke-linecap="round" fill="none"/>
<path d="M193.8 505.5h0M226.0 513.0h0M260.0 516.5h0M292.5 519.5h0M324.0 521.5h0M356.0 524.5h0M389.0 525.5h0M421.0 528.0h0M451.0 529.5h0M484.0 532.0h0M515.0 534.5h0M545.0 536.0h0M575.0 537.0h0M606.0 538.0h0M636.0 539.5h0M666.0 539.5h0M697.5 542.0h0M727.5 542.0h0M757.5 544.5h0M786.0 546.0h0M817.5 546.0h0M847.5 547.0h0M876.0 548.0h0M905.0 550.0h0M209.9 518.8h0M243.0 524.2h0M276.2 527.5h0M308.2 530.0h0M340.0 532.5h0M372.5 534.5h0M405.0 536.2h0M436.0 538.2h0M467.5 540.2h0M499.5 542.8h0M530.0 544.8h0M560.0 546.0h0M590.5 547.0h0M621.0 548.2h0M651.0 549.0h0M681.8 550.2h0M712.5 551.5h0M742.5 552.8h0M771.8 554.8h0M801.8 555.5h0M832.5 556.0h0M861.8 557.0h0M890.5 558.5h0M195.8 511.5h0M228.0 519.0h0M262.0 522.5h0M294.5 525.5h0M326.0 527.5h0M358.0 530.5h0M391.0 531.5h0M423.0 534.0h0M453.0 535.5h0M486.0 538.0h0M517.0 540.5h0M547.0 542.0h0M577.0 543.0h0M608.0 544.0h0M638.0 545.5h0M668.0 545.5h0M699.5 548.0h0M729.5 548.0h0M759.5 550.5h0M788.0 552.0h0M819.5 552.0h0M849.5 553.0h0M878.0 554.0h0M907.0 556.0h0" stroke="#0000ff" stroke-width="14.2" stroke-linecap="round" fill="none"/>
<path d="M712.0 570.0h0M720.0 576.0h0M729.5 581.0h0M738.0 577.0h0M743.0 570.0h0M809.5 573.5h0M835.0 578.0h0M842.0 579.0h0M848.0 570.0h0M928.0 560.0h0" stroke="#0000ff" stroke-width="14.2" stroke-linecap="round" fill="none"/>
<path d="M186.0 669.6h0M186.0 675.2h0M186.0 680.9h0M188.5 669.1h0M188.5 673.7h0M188.5 678.3h0M191.0 668.7h0M191.0 672.2h0M191.0 675.8h0M193.5 668.2h0M193.5 673.8h0M196.0 667.8h0M196.0 673.3h0M198.5 667.4h0M198.5 672.9h0M201.0 665.7h0M201.0 669.1h0M201.0 672.4h0M203.5 662.2h0M203.5 667.1h0M203.5 671.9h0M206.0 659.7h0M206.0 665.6h0M206.0 671.5h0M208.5 658.8h0M208.5 662.9h0M208.5 667.0h0M208.5 671.0h0M211.0 657.8h0M211.0 662.1h0M211.0 666.3h0M211.0 670.6h0M213.5 656.9h0M213.5 661.4h0M213.5 665.8h0M213.5 670.3h0M216.0 656.1h0M216.0 660.8h0M216.0 665.5h0M216.0 670.2h0M218.5 656.1h0M218.5 660.7h0M218.5 665.4h0M218.5 670.0h0M221.0 656.1h0M221.0 660.7h0M221.0 665.3h0M221.0 669.9h0M223.5 656.1h0M223.5 660.6h0M223.5 665.2h0M223.5 669.7h0M226.0 656.1h0M226.0 660.6h0M226.0 665.1h0M226.0 669.6h0M228.5 656.1h0M228.5 660.6h0M228.5 665.0h0M228.5 669.5h0M231.0 656.1h0M231.0 660.5h0M231.0 664.9h0M231.0 669.3h0M233.5 656.1h0M233.5 660.5h0M233.5 664.8h0M233.5 669.2h0M236.0 656.2h0M236.0 660.5h0M236.0 664.8h0M236.0 669.0h0M238.5 656.3h0M238.5 660.5h0M238.5 664.6h0M238.5 668.8h0M241.0 656.4h0M241.0 661.4h0M241.0 666.4h0M243.5 656.5h0M243.5 660.2h0M243.5 663.9h0M246.0 656.6h0M246.0 661.9h0M248.5 656.7h0M248.5 661.9h0M251.0 656.8h0M251.0 662.0h0M253.5 656.9h0M253.5 662.0h0M256.0 656.9h0M256.0 662.0h0M258.5 657.0h0M258.5 662.1h0M261.0 657.1h0M261.0 662.1h0M263.5 657.1h0M263.5 662.0h0M266.0 657.2h0M266.0 661.9h0M268.5 657.2h0M268.5 661.8h0M271.0 657.2h0M271.0 661.7h0M273.5 657.3h0M273.5 661.6h0M276.0 657.3h0M276.0 661.6h0M278.5 657.3h0M278.5 661.5h0M281.0 657.4h0M281.0 661.4h0M283.5 657.4h0M283.5 661.3h0M286.0 657.4h0M286.0 661.2h0M288.5 657.5h0M288.5 661.1h0M291.0 657.5h0M291.0 661.0h0M293.5 657.5h0M293.5 661.0h0M296.0 657.6h0M296.0 660.9h0M298.5 657.6h0M298.5 660.9h0M301.0 657.6h0M301.0 660.9h0M303.5 657.6h0M303.5 660.9h0M306.0 657.7h0M306.0 660.9h0M308.5 657.7h0M308.5 660.9h0M311.0 657.7h0M311.0 660.9h0M313.5 657.8h0M313.5 660.9h0M316.0 657.8h0M316.0 660.9h0M318.5 657.8h0M318.5 660.9h0M321.0 657.9h0M321.0 660.9h0M323.5 657.9h0M323.5 660.9h0M326.0 657.9h0M326.0 660.9h0M328.5 658.0h0M328.5 660.9h0M331.0 658.0h0M331.0 660.9h0M333.5 658.0h0M333.5 660.9h0M336.0 658.1h0M336.0 660.9h0M338.5 658.1h0M338.5 660.9h0M341.0 658.1h0M341.0 660.9h0M343.5 658.1h0M343.5 660.9h0M346.0 658.2h0M346.0 660.9h0M348.5 658.2h0M348.5 660.9h0M351.0 658.2h0M351.0 660.9h0M353.5 658.3h0M353.5 660.9h0M356.0 658.3h0M356.0 660.9h0M358.5 658.3h0M358.5 660.9h0M361.0 658.4h0M361.0 660.9h0M363.5 658.4h0M363.5 660.9h0M366.0 658.4h0M366.0 660.9h0M368.5 658.5h0M368.5 660.9h0M371.0 658.5h0M371.0 660.9h0M373.5 658.5h0M373.5 660.9h0M376.0 658.6h0M376.0 660.9h0M378.5 658.6h0M378.5 660.9h0M381.0 658.6h0M381.0 660.9h0M383.5 658.6h0M383.5 660.9h0M386.0 658.7h0M386.0 660.9h0M388.5 658.7h0M388.5 660.9h0M391.0 658.7h0M391.0 660.9h0M393.5 658.8h0M393.5 660.9h0M396.0 658.8h0M396.0 660.9h0M398.5 658.8h0M398.5 660.9h0M401.0 658.9h0M401.0 660.9h0M403.5 658.9h0M403.5 660.9h0M406.0 658.9h0M406.0 660.9h0M408.5 659.0h0M408.5 660.9h0M411.0 659.0h0M411.0 660.9h0M413.5 659.0h0M413.5 660.9h0M416.0 659.1h0M416.0 660.9h0M418.5 659.1h0M418.5 660.9h0M421.0 659.1h0M421.0 660.9h0M423.5 659.1h0M423.5 661.0h0M426.0 659.2h0M426.0 661.0h0M428.5 659.2h0M428.5 661.1h0M431.0 659.2h0M431.0 661.1h0M433.5 659.2h0M433.5 661.2h0M436.0 659.3h0M436.0 661.2h0M438.5 659.3h0M438.5 661.3h0M441.0 659.3h0M441.0 661.3h0M443.5 659.4h0M443.5 661.4h0M446.0 659.4h0M446.0 661.4h0M448.5 659.4h0M448.5 661.5h0M451.0 659.4h0M451.0 661.5h0M453.5 659.5h0M453.5 661.6h0M456.0 659.5h0M456.0 661.6h0M458.5 659.5h0M458.5 661.7h0M461.0 659.6h0M461.0 661.8h0M463.5 659.6h0M463.5 661.8h0M466.0 659.6h0M466.0 661.9h0M468.5 659.6h0M468.5 661.9h0M471.0 659.7h0M471.0 662.0h0M473.5 659.7h0M473.5 662.0h0M476.0 659.7h0M476.0 662.1h0M478.5 659.8h0M478.5 662.1h0M481.0 659.8h0M481.0 662.2h0M483.5 659.8h0M483.5 662.2h0M486.0 659.8h0M486.0 662.3h0M488.5 659.9h0M488.5 662.3h0M491.0 659.9h0M491.0 662.4h0M493.5 659.9h0M493.5 662.4h0M496.0 659.9h0M496.0 662.5h0M498.5 660.0h0M498.5 662.5h0M501.0 660.0h0M501.0 662.6h0M503.5 660.0h0M503.5 662.6h0M506.0 660.1h0M506.0 662.7h0M508.5 660.1h0M508.5 662.7h0M511.0 660.1h0M511.0 662.8h0M513.5 660.1h0M513.5 662.8h0M516.0 660.2h0M516.0 662.9h0M518.5 660.2h0M518.5 662.9h0M521.0 660.2h0M521.0 663.0h0M523.5 660.2h0M523.5 663.0h0M526.0 660.3h0M526.0 663.1h0M528.5 660.3h0M528.5 663.2h0M531.0 660.3h0M531.0 663.2h0M533.5 660.4h0M533.5 663.3h0M536.0 660.4h0M536.0 663.3h0M538.5 660.4h0M538.5 663.4h0M541.0 660.4h0M541.0 663.4h0M543.5 660.5h0M543.5 663.5h0M546.0 660.5h0M546.0 663.5h0M548.5 660.5h0M548.5 663.6h0M551.0 660.6h0M551.0 663.6h0M553.5 660.6h0M553.5 663.7h0M556.0 660.6h0M556.0 663.7h0M558.5 660.6h0M558.5 663.8h0M561.0 660.7h0M561.0 663.8h0M563.5 660.7h0M563.5 663.9h0M566.0 660.7h0M566.0 663.9h0M568.5 660.8h0M568.5 664.0h0M571.0 660.8h0M571.0 664.0h0M573.5 660.8h0M573.5 664.1h0M576.0 660.8h0M576.0 664.1h0M578.5 660.9h0M578.5 664.2h0M581.0 660.9h0M581.0 664.2h0M583.5 660.9h0M583.5 664.3h0M586.0 660.9h0M586.0 664.3h0M588.5 661.0h0M588.5 664.4h0M591.0 661.0h0M591.0 664.4h0M593.5 661.0h0M593.5 664.5h0M596.0 661.1h0M596.0 664.6h0M598.5 661.1h0M598.5 664.6h0M601.0 661.1h0M601.0 664.7h0M603.5 661.1h0M603.5 664.7h0M606.0 661.2h0M606.0 664.8h0M608.5 661.2h0M608.5 664.8h0M611.0 661.2h0M611.0 664.9h0M613.5 661.2h0M613.5 664.9h0M616.0 661.3h0M616.0 665.0h0M618.5 661.3h0M618.5 665.0h0M621.0 661.3h0M621.0 665.1h0M623.5 661.4h0M623.5 665.1h0M626.0 661.4h0M626.0 665.2h0M628.5 661.4h0M628.5 665.2h0M631.0 661.4h0M631.0 665.3h0M633.5 661.5h0M633.5 665.3h0M636.0 661.5h0M636.0 665.4h0M638.5 661.5h0M638.5 665.4h0M641.0 661.6h0M641.0 665.5h0M643.5 661.6h0M643.5 665.5h0M646.0 661.6h0M646.0 665.6h0M648.5 661.6h0M648.5 665.6h0M651.0 661.7h0M651.0 665.7h0M653.5 661.7h0M653.5 665.7h0M656.0 661.7h0M656.0 665.8h0M658.5 661.8h0M658.5 665.8h0M661.0 661.8h0M661.0 665.9h0M663.5 661.8h0M663.5 666.0h0M666.0 661.8h0M666.0 666.0h0M668.5 661.9h0M668.5 666.1h0M671.0 661.9h0M671.0 666.1h0M673.5 661.9h0M673.5 666.2h0M676.0 661.9h0M676.0 666.2h0M678.5 662.0h0M678.5 666.3h0M681.0 662.0h0M681.0 666.3h0M683.5 662.0h0M683.5 666.4h0M686.0 662.1h0M686.0 666.4h0M688.5 662.1h0M688.5 666.5h0M691.0 662.1h0M691.0 666.5h0M693.5 662.1h0M693.5 666.5h0M696.0 662.2h0M696.0 666.6h0M698.5 662.2h0M698.5 666.6h0M701.0 662.2h0M701.0 666.6h0M703.5 662.3h0M703.5 666.6h0M706.0 662.3h0M706.0 666.7h0M708.5 662.3h0M708.5 666.7h0M711.0 662.3h0M711.0 666.7h0M713.5 662.4h0M713.5 666.8h0M716.0 662.4h0M716.0 666.8h0M718.5 662.4h0M718.5 666.8h0M721.0 662.5h0M721.0 666.8h0M723.5 662.5h0M723.5 666.9h0M726.0 662.5h0M726.0 666.9h0M728.5 662.5h0M728.5 666.9h0M731.0 662.6h0M731.0 667.0h0M733.5 662.6h0M733.5 667.0h0M736.0 662.6h0M736.0 667.0h0M738.5 662.7h0M738.5 667.0h0M741.0 662.7h0M741.0 667.1h0M743.5 662.7h0M743.5 667.1h0M746.0 662.7h0M746.0 667.1h0M748.5 662.8h0M748.5 667.1h0M751.0 662.8h0M751.0 667.2h0M753.5 662.8h0M753.5 667.2h0M756.0 662.9h0M756.0 667.2h0M758.5 662.9h0M758.5 667.3h0M761.0 662.9h0M761.0 667.3h0M763.5 662.9h0M763.5 667.3h0M766.0 663.0h0M766.0 667.3h0M768.5 663.0h0M768.5 667.4h0M771.0 663.0h0M771.0 667.4h0M773.5 663.1h0M773.5 667.4h0M776.0 663.1h0M776.0 667.5h0M778.5 663.1h0M778.5 667.5h0M781.0 663.1h0M781.0 667.5h0M783.5 663.2h0M783.5 667.5h0M786.0 663.2h0M786.0 667.6h0M788.5 663.2h0M788.5 667.6h0M791.0 663.3h0M791.0 667.6h0M793.5 663.3h0M793.5 667.6h0M796.0 663.3h0M796.0 667.7h0M798.5 663.3h0M798.5 667.7h0M801.0 663.4h0M801.0 667.7h0M803.5 663.4h0M803.5 667.8h0M806.0 663.4h0M806.0 667.8h0M808.5 663.5h0M808.5 667.8h0M811.0 663.5h0M811.0 667.8h0M813.5 663.5h0M813.5 667.9h0M816.0 663.5h0M816.0 667.9h0M818.5 663.6h0M818.5 667.9h0M821.0 663.6h0M821.0 668.0h0M823.5 663.6h0M823.5 668.0h0M826.0 663.7h0M826.0 668.0h0M828.5 663.7h0M828.5 668.0h0M831.0 663.7h0M831.0 668.1h0M833.5 663.7h0M833.5 668.1h0M836.0 663.8h0M836.0 668.1h0M838.5 663.8h0M838.5 668.1h0M841.0 663.8h0M841.0 668.2h0M843.5 663.9h0M843.5 668.2h0M846.0 663.9h0M846.0 668.2h0M848.5 663.9h0M848.5 668.3h0M851.0 664.0h0M851.0 668.3h0M853.5 664.0h0M853.5 668.3h0M856.0 664.0h0M856.0 668.3h0M858.5 664.0h0M858.5 668.4h0M861.0 664.1h0M861.0 668.4h0M863.5 664.1h0M863.5 668.4h0M866.0 664.1h0M866.0 668.5h0M868.5 664.2h0M868.5 668.5h0M871.0 664.2h0M871.0 668.5h0M873.5 664.2h0M873.5 668.5h0M876.0 664.2h0M876.0 668.6h0M878.5 664.3h0M878.5 668.6h0M881.0 664.3h0M881.0 668.6h0M883.5 664.3h0M883.5 668.6h0M886.0 664.4h0M886.0 668.7h0M888.5 664.4h0M888.5 668.7h0M891.0 664.4h0M891.0 668.7h0M893.5 664.4h0M893.5 668.8h0M896.0 664.5h0M896.0 668.8h0M898.5 664.5h0M898.5 668.8h0M901.0 664.5h0M901.0 668.8h0M903.5 664.6h0M903.5 668.9h0M906.0 664.6h0M906.0 668.9h0M908.5 664.6h0M908.5 668.9h0M911.0 664.6h0M911.0 669.0h0M913.5 664.7h0M913.5 669.0h0M916.0 664.7h0M916.0 669.0h0M918.5 664.7h0M918.5 669.0h0M921.0 664.8h0M921.0 669.1h0M923.5 664.8h0M923.5 669.1h0M926.0 664.8h0M926.0 669.1h0M928.5 664.8h0M928.5 669.1h0M931.0 664.9h0M931.0 669.2h0M933.5 664.9h0M933.5 669.2h0M936.0 664.9h0M936.0 669.2h0M938.5 665.0h0M938.5 669.3h0M941.0 665.0h0M941.0 669.3h0M943.5 665.0h0M943.5 669.3h0M946.0 665.0h0M946.0 669.3h0M948.5 665.1h0M948.5 669.4h0M951.0 665.1h0M951.0 669.4h0M953.5 665.5h0M953.5 669.2h0M956.0 666.0h0M956.0 669.0h0M958.5 666.4h0M958.5 668.7h0M961.0 666.9h0M961.0 668.5h0M963.5 667.3h0M963.5 668.3h0M966.0 667.7h0M966.0 668.1h0" stroke="#000000" stroke-width="14.2" stroke-linecap="round" fill="none"/>
<path d="M222.0 651.8h0M228.0 650.8h0M256.0 652.8h0M262.0 651.8h0M290.0 653.2h0M296.0 652.2h0M324.0 653.6h0M330.0 652.6h0M358.0 654.1h0M364.0 653.1h0M392.0 654.5h0M398.0 653.5h0M426.0 654.9h0M432.0 653.9h0M460.0 655.3h0M466.0 654.3h0M494.0 655.7h0M500.0 654.7h0M528.0 656.0h0M534.0 655.0h0M562.0 656.4h0M568.0 655.4h0M596.0 656.8h0M602.0 655.8h0M630.0 657.2h0M636.0 656.2h0M664.0 657.5h0M670.0 656.5h0M698.0 657.9h0M704.0 656.9h0M732.0 658.3h0M738.0 657.3h0M766.0 658.7h0M772.0 657.7h0M800.0 659.1h0M806.0 658.1h0M834.0 659.5h0M840.0 658.5h0M868.0 659.9h0M874.0 658.9h0M902.0 660.3h0M908.0 659.3h0M936.0 660.7h0M942.0 659.7h0" stroke="#000000" stroke-width="14.2" stroke-linecap="round" fill="none"/>
<path d="M179.7 312.8h0" stroke="#0000ff" stroke-width="14.6" stroke-linecap="round" fill="none"/>
<path d="M179.7 317.5h0" stroke="#ff0000" stroke-width="14.0" stroke-linecap="round" fill="none"/>
<path d="M179.7 314.0h0" stroke="#00ff00" stroke-width="13.2" stroke-linecap="round" fill="none"/>
<ellipse cx="179.7" cy="331.5" rx="6.5" ry="5.2" fill="#000"/>
<path d="M182.0 601.0h0M185.0 608.5h0M181.0 609.0h0" stroke="#0000ff" stroke-width="14.8" stroke-linecap="round" fill="none"/>
<path d="M195.0 648.5h0M180.0 699.0h0M186.0 704.0h0" stroke="#000000" stroke-width="14.2" stroke-linecap="round" fill="none"/>
<path d="M180.5 803.3h0" stroke="#0000ff" stroke-width="14.6" stroke-linecap="round" fill="none"/>
<path d="M180.5 803.3h0" stroke="#00ff00" stroke-width="13.2" stroke-linecap="round" fill="none"/>
<path d="M205.6 803.3h0" stroke="#000000" stroke-width="14.2" stroke-linecap="round" fill="none"/>
<path d="M930.0 803.7h0M928.5 594.6h0" stroke="#ff0000" stroke-width="12.6" stroke-linecap="round" fill="none"/>
<path d="M928.5 740.4h0" stroke="#0000ff" stroke-width="12.6" stroke-linecap="round" fill="none"/>
<path d="M947.0 453.5h0M738.8 530.0h0" stroke="#00ff00" stroke-width="12.6" stroke-linecap="round" fill="none"/>
<path d="M180.5 803.3v-19.5M180.5 22.0v19.5M227.0 803.3v-6.5M227.0 22.0v6.5M273.4 803.3v-6.5M273.4 22.0v6.5M319.9 803.3v-6.5M319.9 22.0v6.5M366.3 803.3v-19.5M366.3 22.0v19.5M412.8 803.3v-6.5M412.8 22.0v6.5M459.2 803.3v-6.5M459.2 22.0v6.5M505.7 803.3v-6.5M505.7 22.0v6.5M552.1 803.3v-19.5M552.1 22.0v19.5M598.6 803.3v-6.5M598.6 22.0v6.5M645.0 803.3v-6.5M645.0 22.0v6.5M691.5 803.3v-6.5M691.5 22.0v6.5M737.9 803.3v-19.5M737.9 22.0v19.5M784.4 803.3v-6.5M784.4 22.0v6.5M830.8 803.3v-6.5M830.8 22.0v6.5M877.3 803.3v-6.5M877.3 22.0v6.5M923.7 803.3v-19.5M923.7 22.0v19.5M180.4 803.3h19.5M960.7 803.3h-19.5M180.4 764.2h6.5M960.7 764.2h-6.5M180.4 725.1h6.5M960.7 725.1h-6.5M180.4 686.1h6.5M960.7 686.1h-6.5M180.4 647.0h19.5M960.7 647.0h-19.5M180.4 607.9h6.5M960.7 607.9h-6.5M180.4 568.8h6.5M960.7 568.8h-6.5M180.4 529.7h6.5M960.7 529.7h-6.5M180.4 490.6h19.5M960.7 490.6h-19.5M180.4 451.6h6.5M960.7 451.6h-6.5M180.4 412.5h6.5M960.7 412.5h-6.5M180.4 373.4h6.5M960.7 373.4h-6.5M180.4 334.3h19.5M960.7 334.3h-19.5M180.4 295.2h6.5M960.7 295.2h-6.5M180.4 256.2h6.5M960.7 256.2h-6.5M180.4 217.1h6.5M960.7 217.1h-6.5M180.4 178.0h19.5M960.7 178.0h-19.5M180.4 138.9h6.5M960.7 138.9h-6.5M180.4 99.8h6.5M960.7 99.8h-6.5M180.4 60.8h6.5M960.7 60.8h-6.5" stroke="#000" stroke-width="3.5" stroke-linecap="round" fill="none"/>
<rect x="180.4" y="22.0" width="780.3" height="781.3" stroke="#000" stroke-width="3.9" stroke-linejoin="round" fill="none"/>
<g font-size="54"><text transform="translate(167 820.9) scale(1 1.035)" text-anchor="end">0</text><text transform="translate(167 664.6) scale(1 1.035)" text-anchor="end">50</text><text transform="translate(167 508.2) scale(1 1.035)" text-anchor="end">100</text><text transform="translate(167 351.9) scale(1 1.035)" text-anchor="end">150</text><text transform="translate(167 195.6) scale(1 1.035)" text-anchor="end">200</text><text transform="translate(180.5 863.8) scale(1 1.035)" text-anchor="middle">0</text><text transform="translate(366.3 863.8) scale(1 1.035)" text-anchor="middle">5000</text><text transform="translate(552.1 863.8) scale(1 1.035)" text-anchor="middle">10000</text><text transform="translate(737.9 863.8) scale(1 1.035)" text-anchor="middle">15000</text><text transform="translate(923.7 863.8) scale(1 1.035)" text-anchor="middle">20000</text></g>
<text x="570.5" y="941.5" font-size="73.6" text-anchor="middle">Time (hr)</text>
<text transform="translate(54.8 828) rotate(-90)" font-size="72.6">Discharge capacity (mAh)</text>
<g font-weight="bold">
<text transform="translate(219 93.8) scale(1 1.035)" font-size="63.5">C/3</text>
<text transform="translate(528 131.2) scale(1 1.055)" font-size="45">3370 cycles</text>
<text transform="translate(527.7 403.6) scale(1 1.055)" font-size="45">5280 cycles</text>
<text transform="translate(528.3 528.3) scale(1 1.055)" font-size="45">7430 cycles</text>
<text transform="translate(512 639.6) scale(1 1.055)" font-size="45">16680 cycles</text>
</g>
</svg>
</body></html>
